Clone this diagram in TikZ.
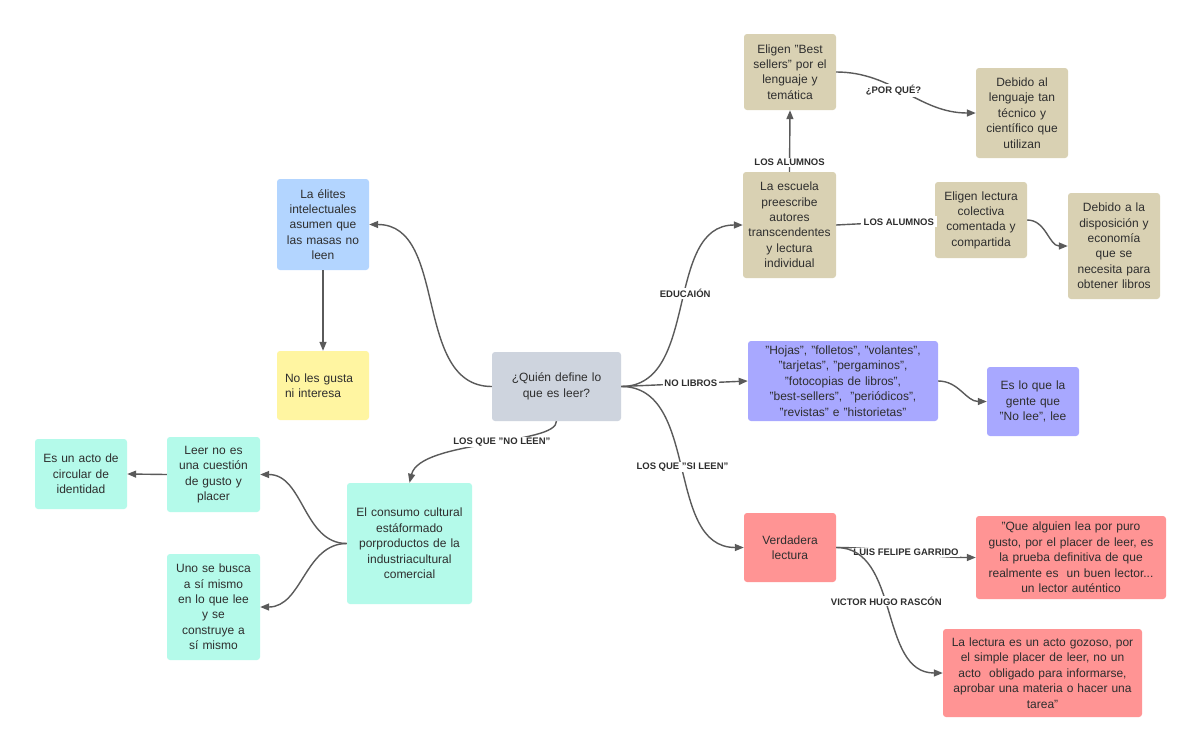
\documentclass[tikz,border=0pt]{standalone}
\usepackage{fontspec}
\setmainfont{Liberation Sans}
\usetikzlibrary{arrows.meta}
\definecolor{txt}{HTML}{2E2E2E}
\definecolor{edge}{HTML}{5A5A5A}
\definecolor{cgray}{HTML}{CED4DE}
\definecolor{cblue}{HTML}{B3D5FF}
\definecolor{cyellow}{HTML}{FFF5A1}
\definecolor{cmint}{HTML}{B4FAEA}
\definecolor{ctan}{HTML}{D9D1B3}
\definecolor{cpurple}{HTML}{A8A8FF}
\definecolor{csalmon}{HTML}{FF9494}
\tikzset{
  box/.style={rounded corners=3pt, inner sep=0pt, align=center, text=txt,
    font=\fontsize{12}{15.4}\selectfont},
  lab/.style={font=\fontsize{9.5}{10}\selectfont\bfseries, fill=white, inner xsep=1.5pt, inner ysep=1pt, text=txt},
  con/.style={draw=edge, line width=1.4pt, -{Triangle[length=9pt,width=7pt]}},
}
\begin{document}
\begin{tikzpicture}[x=1pt,y=-1pt]
\useasboundingbox[fill=white] (0,0) rectangle (1200,753);

% nodes
\node[box, fill=cgray, minimum width=129pt, minimum height=69pt, text width=125pt] (q) at (556.5,386.5) {¿Quién define lo\\ que es leer?};
\node[box, fill=cblue, minimum width=92pt, minimum height=91pt, text width=90pt] (elite) at (323,224.5) {La élites\\ intelectuales\\ asumen que\\ las masas no\\ leen};
\node[box, fill=cyellow, minimum width=92pt, minimum height=69pt, text width=76pt, align=left] (nog) at (323,385.5) {No les gusta\\ ni interesa};
\node[box, fill=cmint, minimum width=125pt, minimum height=121pt, text width=121pt] (cons) at (409.5,543.5) {El consumo cultural\\ estáformado\\ porproductos de la\\ industriacultural\\ comercial};
\node[box, fill=cmint, minimum width=93pt, minimum height=75pt, text width=91pt] (leer) at (213.5,474.5) {Leer no es\\ una cuestión\\ de gusto y\\ placer};
\node[box, fill=cmint, minimum width=92pt, minimum height=70pt, text width=90pt] (acto) at (81,474) {Es un acto de\\ circular de\\ identidad};
\node[box, fill=cmint, minimum width=93pt, minimum height=106pt, text width=91pt] (uno) at (213.5,607) {Uno se busca\\ a sí mismo\\ en lo que lee\\ y se\\ construye a\\ sí mismo};
\node[box, fill=ctan, minimum width=93pt, minimum height=106pt, text width=91pt] (esc) at (789.5,225) {La escuela\\ preescribe\\ autores\\ transcendentes\\ y lectura\\ individual};
\node[box, fill=ctan, minimum width=92pt, minimum height=76pt, text width=90pt] (best) at (790,72) {Eligen "Best\\ sellers" por el\\ lenguaje y\\ temática};
\node[box, fill=ctan, minimum width=92pt, minimum height=90pt, text width=90pt] (deb1) at (1022,113) {Debido al\\ lenguaje tan\\ técnico y\\ científico que\\ utilizan};
\node[box, fill=ctan, minimum width=92pt, minimum height=76pt, text width=90pt] (col) at (981,220) {Eligen lectura\\ colectiva\\ comentada y\\ compartida};
\node[box, fill=ctan, minimum width=92pt, minimum height=106pt, text width=90pt] (deb2) at (1114,246) {Debido a la\\ disposición y\\ economía\\ que se\\ necesita para\\ obtener libros};
\node[box, fill=cpurple, minimum width=190pt, minimum height=80pt, text width=186pt] (hojas) at (843,381) {"Hojas", "folletos", "volantes",\\ "tarjetas", "pergaminos",\\ "fotocopias de libros",\\ "best-sellers",\ \ "periódicos",\\ "revistas" e "historietas"};
\node[box, fill=cpurple, minimum width=92pt, minimum height=69pt, text width=90pt] (eslo) at (1033,401.5) {Es lo que la\\ gente que\\ "No lee", lee};
\node[box, fill=csalmon, minimum width=92pt, minimum height=69pt, text width=90pt] (verd) at (790,547.5) {Verdadera\\ lectura};
\node[box, fill=csalmon, minimum width=190pt, minimum height=83pt, text width=188pt] (que) at (1071,557.5) {"Que alguien lea por puro\\ gusto, por el placer de leer, es\\ la prueba definitiva de que\\ realmente es\ \ un buen lector...\\ un lector auténtico};
\node[box, fill=csalmon, minimum width=199pt, minimum height=88pt, text width=197pt] (lect) at (1042.5,673) {La lectura es un acto gozoso, por\\ el simple placer de leer, no un\\ acto\ \ obligado para informarse,\\ aprobar una materia o hacer una\\ tarea"};

% connectors
\draw[con] (q.west) to[out=180,in=0] (elite.east);
\draw[con] (elite.south) -- (nog.north);
\draw[con] (q.south) .. controls (557,445) and (420,440) .. (cons.north)
  node[lab, pos=0.43] {LOS QUE "NO LEEN"};
\draw[con] (cons.west) to[out=180,in=0] (leer.east);
\draw[con] (cons.west) to[out=180,in=0] (uno.east);
\draw[con] (leer.west) -- (acto.east);
\draw[con] (q.east) to[out=0,in=180] node[lab, pos=0.55] {EDUCAIÓN} (esc.west);
\draw[con] (q.east) -- node[lab, pos=0.55] {NO LIBROS} (hojas.west);
\draw[con] (q.east) to[out=0,in=180] node[lab, pos=0.5] {LOS QUE "SI LEEN"} (verd.west);
\draw[con] (esc.north) -- node[lab, pos=0.15] {LOS ALUMNOS} (best.south);
\draw[con] (best.east) to[out=0,in=180] node[lab, pos=0.4, yshift=-4pt] {¿POR QUÉ?} (deb1.west);
\draw[con] (esc.east) -- node[lab, pos=0.635, inner xsep=3pt, inner ysep=2pt] {LOS ALUMNOS} (col.west);
\draw[con] (col.east) to[out=0,in=180] (deb2.west);
\draw[con] (hojas.east) to[out=0,in=180] (eslo.west);
\draw[con] (verd.east) to[out=0,in=180] node[lab, pos=0.5] {LUIS FELIPE GARRIDO} (que.west);
\draw[con] (verd.east) to[out=0,in=180] node[lab, pos=0.45] {VICTOR HUGO RASCÓN} (lect.west);
\end{tikzpicture}
\end{document}
